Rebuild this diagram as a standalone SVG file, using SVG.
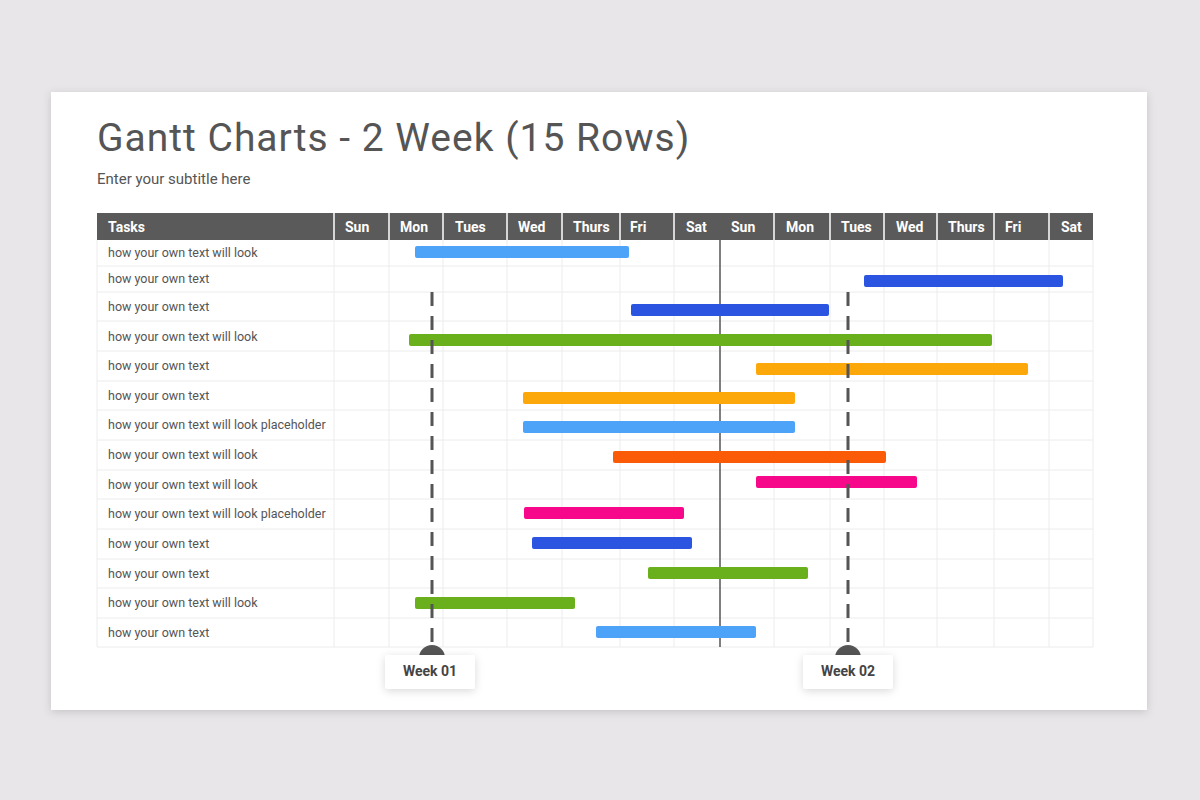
<svg xmlns="http://www.w3.org/2000/svg" width="1200" height="800" viewBox="0 0 1200 800">
<defs>
<filter id="sh" x="-20%" y="-20%" width="140%" height="160%"><feDropShadow dx="0" dy="2" stdDeviation="4" flood-color="#000" flood-opacity="0.15"/></filter>
<style>
text{font-family:Roboto,"Liberation Sans",sans-serif}
.h{fill:#fff;font-size:14px;font-weight:bold}
.t{fill:#555;font-size:12.5px}
.g{stroke:#ececec;stroke-width:1}
.dash{stroke:#555;stroke-width:3;stroke-dasharray:14 10}
.wk{fill:#444;font-size:14px;font-weight:bold;text-anchor:middle}
</style>
</defs>
<rect width="1200" height="800" fill="#e8e6e8"/>
<rect x="51" y="92" width="1096" height="618" fill="#fff" filter="url(#sh)"/>
<text x="97" y="151" font-size="39" letter-spacing="1" fill="#555">Gantt Charts - 2 Week (15 Rows)</text>
<text x="97" y="184" font-size="15" fill="#555">Enter your subtitle here</text>
<g id="grid">
<rect x="97" y="213" width="996" height="27" fill="#5a5a5a"/>
<g class="g">
<line x1="97" y1="266" x2="1093" y2="266"/><line x1="97" y1="292" x2="1093" y2="292"/><line x1="97" y1="321" x2="1093" y2="321"/><line x1="97" y1="351" x2="1093" y2="351"/><line x1="97" y1="381" x2="1093" y2="381"/><line x1="97" y1="410" x2="1093" y2="410"/><line x1="97" y1="440" x2="1093" y2="440"/><line x1="97" y1="470" x2="1093" y2="470"/><line x1="97" y1="499" x2="1093" y2="499"/><line x1="97" y1="529" x2="1093" y2="529"/><line x1="97" y1="559" x2="1093" y2="559"/><line x1="97" y1="588" x2="1093" y2="588"/><line x1="97" y1="618" x2="1093" y2="618"/><line x1="97" y1="647" x2="1093" y2="647"/>
<line x1="97" y1="240" x2="97" y2="647"/><line x1="1093" y1="240" x2="1093" y2="647"/>
<line x1="334" y1="240" x2="334" y2="647"/><line x1="389" y1="240" x2="389" y2="647"/><line x1="443" y1="240" x2="443" y2="647"/><line x1="507" y1="240" x2="507" y2="647"/><line x1="562" y1="240" x2="562" y2="647"/><line x1="620" y1="240" x2="620" y2="647"/><line x1="674" y1="240" x2="674" y2="647"/><line x1="774" y1="240" x2="774" y2="647"/><line x1="830" y1="240" x2="830" y2="647"/><line x1="884" y1="240" x2="884" y2="647"/><line x1="937" y1="240" x2="937" y2="647"/><line x1="994" y1="240" x2="994" y2="647"/><line x1="1049" y1="240" x2="1049" y2="647"/>
</g>
<g stroke="#fff" stroke-width="1.5">
<line x1="334" y1="213" x2="334" y2="240"/><line x1="389" y1="213" x2="389" y2="240"/><line x1="443" y1="213" x2="443" y2="240"/><line x1="507" y1="213" x2="507" y2="240"/><line x1="562" y1="213" x2="562" y2="240"/><line x1="620" y1="213" x2="620" y2="240"/><line x1="674" y1="213" x2="674" y2="240"/><line x1="774" y1="213" x2="774" y2="240"/><line x1="830" y1="213" x2="830" y2="240"/><line x1="884" y1="213" x2="884" y2="240"/><line x1="937" y1="213" x2="937" y2="240"/><line x1="994" y1="213" x2="994" y2="240"/><line x1="1049" y1="213" x2="1049" y2="240"/>
</g>
<g class="h">
<text x="108" y="232">Tasks</text><text x="345" y="232">Sun</text><text x="400" y="232">Mon</text><text x="455" y="232">Tues</text><text x="518" y="232">Wed</text><text x="573" y="232">Thurs</text><text x="630" y="232">Fri</text><text x="686" y="232">Sat</text><text x="731" y="232">Sun</text><text x="786" y="232">Mon</text><text x="841" y="232">Tues</text><text x="896" y="232">Wed</text><text x="948" y="232">Thurs</text><text x="1005" y="232">Fri</text><text x="1061" y="232">Sat</text>
</g>
<g class="t">
<text x="108" y="257">how your own text will look</text>
<text x="108" y="283">how your own text</text>
<text x="108" y="311">how your own text</text>
<text x="108" y="341">how your own text will look</text>
<text x="108" y="370">how your own text</text>
<text x="108" y="400">how your own text</text>
<text x="108" y="429">how your own text will look placeholder</text>
<text x="108" y="459">how your own text will look</text>
<text x="108" y="489">how your own text will look</text>
<text x="108" y="518">how your own text will look placeholder</text>
<text x="108" y="548">how your own text</text>
<text x="108" y="578">how your own text</text>
<text x="108" y="607">how your own text will look</text>
<text x="108" y="637">how your own text</text>
</g>
</g>
<line x1="720" y1="240" x2="720" y2="647" stroke="#555" stroke-width="1.5"/>
<g id="bars">
<rect x="415" y="246" width="214" height="12" rx="2" fill="#4da3f7"/>
<rect x="864" y="275" width="199" height="12" rx="2" fill="#2b55e0"/>
<rect x="631" y="304" width="198" height="12" rx="2" fill="#2b55e0"/>
<rect x="409" y="334" width="583" height="12" rx="2" fill="#6aaf1c"/>
<rect x="756" y="363" width="272" height="12" rx="2" fill="#fca70a"/>
<rect x="523" y="392" width="272" height="12" rx="2" fill="#fca70a"/>
<rect x="523" y="421" width="272" height="12" rx="2" fill="#4da3f7"/>
<rect x="613" y="451" width="273" height="12" rx="2" fill="#fb5a06"/>
<rect x="756" y="476" width="161" height="12" rx="2" fill="#f7078a"/>
<rect x="524" y="507" width="160" height="12" rx="2" fill="#f7078a"/>
<rect x="532" y="537" width="160" height="12" rx="2" fill="#2b55e0"/>
<rect x="648" y="567" width="160" height="12" rx="2" fill="#6aaf1c"/>
<rect x="415" y="597" width="160" height="12" rx="2" fill="#6aaf1c"/>
<rect x="596" y="626" width="160" height="12" rx="2" fill="#4da3f7"/>
</g>
<g id="week01">
<line x1="432" y1="292" x2="432" y2="647" class="dash"/>
<circle cx="432" cy="658" r="13" fill="#555"/>
<rect x="385" y="655" width="90" height="34" rx="3" fill="#fff" filter="url(#sh)"/>
<text x="430" y="676" class="wk">Week 01</text>
</g>
<g id="week02">
<line x1="848" y1="292" x2="848" y2="647" class="dash"/>
<circle cx="848" cy="658" r="13" fill="#555"/>
<rect x="803" y="655" width="90" height="34" rx="3" fill="#fff" filter="url(#sh)"/>
<text x="848" y="676" class="wk">Week 02</text>
</g>
</svg>
